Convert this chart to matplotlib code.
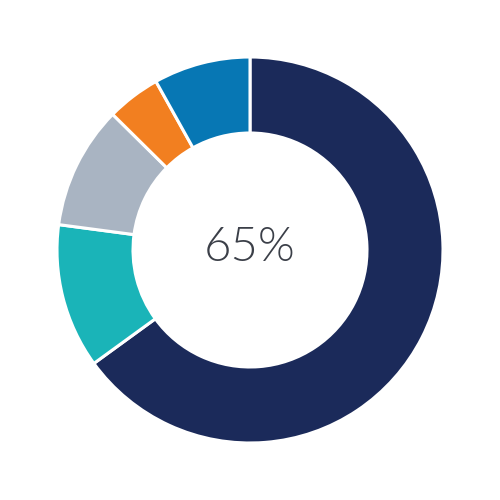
import matplotlib
matplotlib.use("Agg")
import matplotlib.pyplot as plt

labels = ["Navy", "Teal", "Gray", "Orange", "Blue"]
values = [65.0, 12.1, 10.3, 4.5, 8.1]
colors = ["#1b2a5a", "#1ab4b8", "#a9b4c2", "#f27f20", "#0777b4"]
center_text = "65%"

fig = plt.figure(figsize=(5, 5), dpi=100)
ax = fig.add_axes([0, 0, 1, 1])
ax.pie(values, colors=colors, startangle=90, counterclock=False,
       radius=193, center=(0, 0),
       wedgeprops=dict(width=76, edgecolor="white", linewidth=2.2))
ax.set_xlim(-250, 250)
ax.set_ylim(-250, 250)
ax.set_aspect("equal")
ax.axis("off")
ax.text(0, 2, center_text, ha="center", va="center", fontsize=34,
        family=["Lato", "DejaVu Sans"], fontweight=300, color="#3b3f48")
fig.savefig("out.png", dpi=100)
